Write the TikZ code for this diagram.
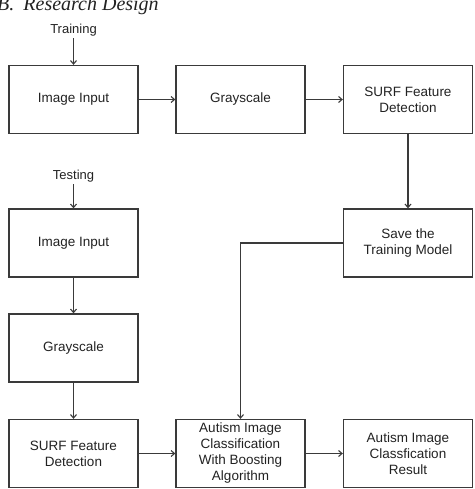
\documentclass[tikz,border=0pt]{standalone}
\usepackage{fontspec}
\setmainfont{Liberation Sans}
\newfontfamily\titlefont{Liberation Serif}
\usetikzlibrary{arrows.meta}
\definecolor{ink}{HTML}{222222}
\definecolor{edge}{HTML}{3A3A3A}
\begin{document}
\begin{tikzpicture}[x=1pt,y=-1pt,
  box/.style={draw=edge,line width=1.3pt,minimum width=129pt,minimum height=68pt,
    align=center,text=ink,font=\fontsize{13.5}{16}\selectfont,inner sep=1pt},
  lbl/.style={text=ink,font=\fontsize{13}{15}\selectfont,inner sep=0pt},
  conn/.style={draw=edge,line width=1.1pt,-{Straight Barb[length=3.5pt,width=6pt]}}]
\useasboundingbox (0,0) rectangle (474,489);
\node[anchor=base west,inner sep=0pt,font=\titlefont\itshape\fontsize{20}{24}\selectfont,text=ink] (title) at (-3,11) {B.\hspace{9pt}Research Design};
\node[lbl] (train) at (73.5,30) {Training};
\node[lbl] (test) at (73.5,176) {Testing};
\node[box] (in1) at (73.5,99.5) {Image Input};
\node[box] (gs1) at (240.5,99.5) {Grayscale};
\node[box] (sf1) at (408,99.5) {SURF Feature\\Detection};
\node[box] (save) at (408,243) {Save the\\Training Model};
\node[box] (in2) at (73.5,243) {Image Input};
\node[box] (gs2) at (73.5,348) {Grayscale};
\node[box] (sf2) at (73.5,453.5) {SURF Feature\\Detection};
\node[box] (cls) at (240.5,453.5) {Autism Image\\Classification\\With Boosting\\Algorithm};
\node[box] (res) at (408,453.5) {Autism Image\\Classfication\\Result};
\draw[conn] (train.south) ++(0,2) -- (in1.north);
\draw[conn] (test.south) ++(0,2) -- (in2.north);
\draw[conn] (in1) -- (gs1);
\draw[conn] (gs1) -- (sf1);
\draw[conn] (sf1) -- (save);
\draw[conn] (in2) -- (gs2);
\draw[conn] (gs2) -- (sf2);
\draw[conn] (sf2) -- (cls);
\draw[conn] (cls) -- (res);
\draw[conn] (save.west) -| (cls.north);
\end{tikzpicture}
\end{document}
